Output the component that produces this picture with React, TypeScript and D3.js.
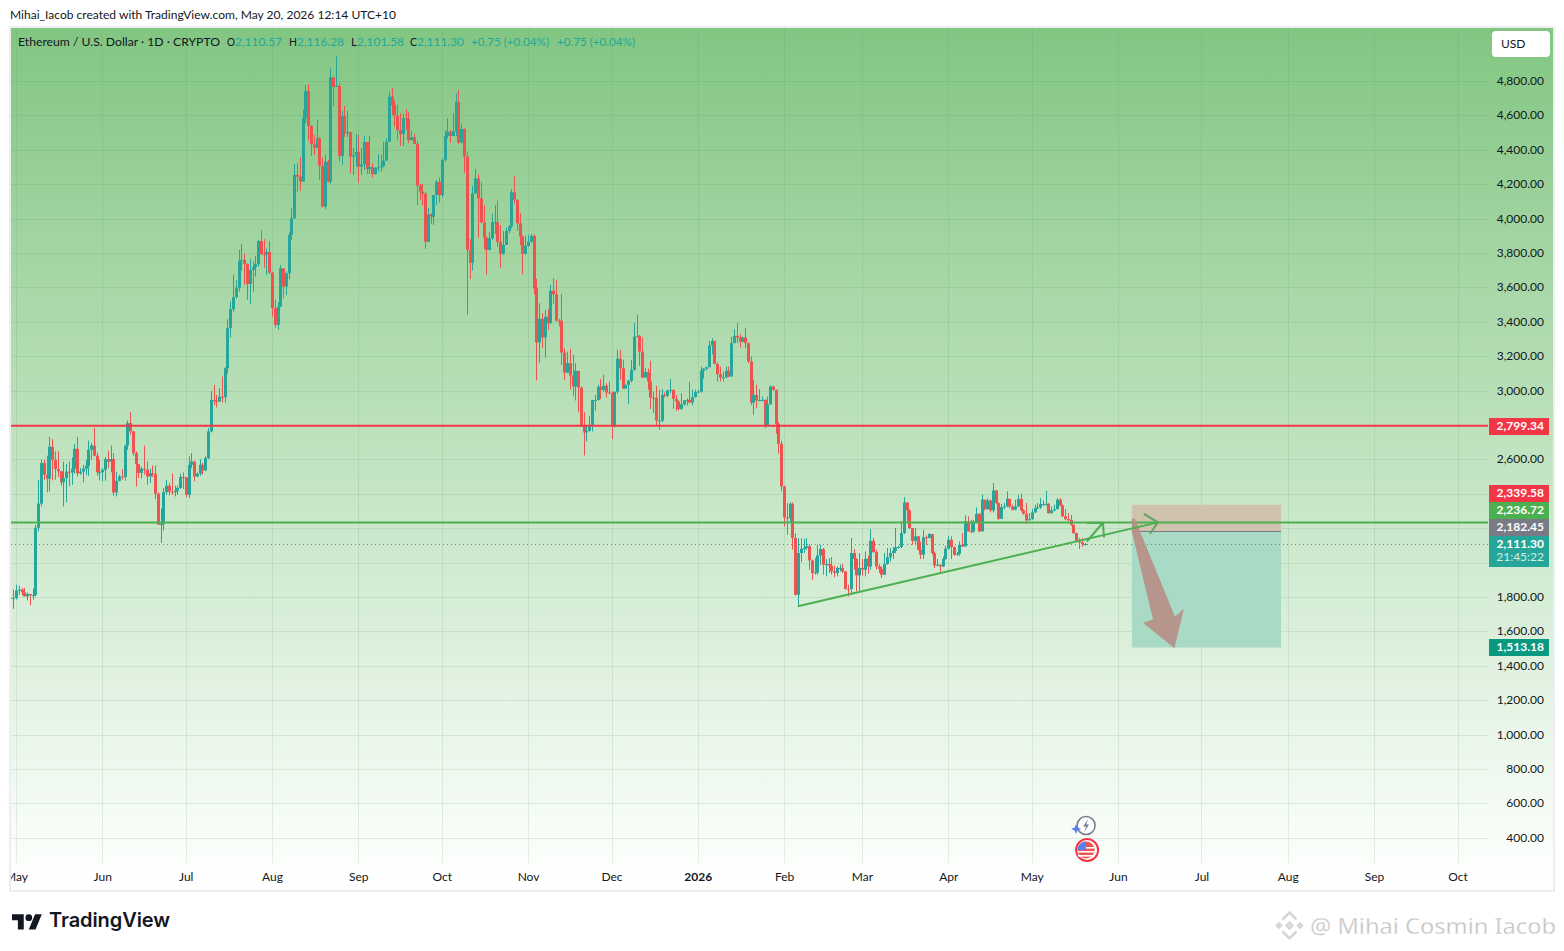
import React, { useEffect, useRef } from 'react';
import * as d3 from 'd3';

// daily candles, first one is 29 Apr 2025, open = previous close
const firstOpen = 1801;
const closes = [
  1794, 1797, 1842, 1846, 1830, 1807, 1821, 1813, 1815, 2206, 2346, 2582, 2514, 2491, 2677, 2601, 2547, 2534, 2470, 2495,
  2532, 2528, 2549, 2665, 2522, 2532, 2549, 2566, 2659, 2683, 2625, 2528, 2528, 2543, 2605, 2590, 2605, 2411, 2479, 2504,
  2501, 2683, 2814, 2766, 2640, 2576, 2524, 2549, 2543, 2504, 2524, 2520, 2404, 2224, 2228, 2413, 2450, 2415, 2413, 2421,
  2437, 2501, 2499, 2398, 2572, 2590, 2504, 2520, 2572, 2539, 2611, 2766, 2949, 2945, 2939, 2968, 2965, 3133, 3366, 3476,
  3546, 3602, 3757, 3763, 3739, 3623, 3705, 3720, 3738, 3873, 3796, 3794, 3809, 3689, 3482, 3385, 3491, 3714, 3608, 3685,
  3908, 4005, 4257, 4247, 4218, 4586, 4745, 4541, 4435, 4415, 4470, 4309, 4073, 4334, 4218, 4824, 4770, 4774, 4367, 4599,
  4499, 4506, 4363, 4371, 4390, 4305, 4319, 4448, 4291, 4303, 4262, 4299, 4301, 4307, 4340, 4450, 4712, 4663, 4601, 4518,
  4495, 4586, 4584, 4460, 4476, 4437, 4195, 4160, 4148, 3869, 4028, 4014, 4140, 4216, 4140, 4344, 4483, 4508, 4483, 4512,
  4681, 4445, 4524, 4363, 3821, 3747, 4150, 4237, 4121, 3980, 3892, 3821, 3889, 3982, 3982, 3869, 3798, 3850, 3931, 3957,
  4156, 4112, 3976, 3899, 3798, 3844, 3868, 3902, 3598, 3283, 3420, 3312, 3432, 3395, 3583, 3563, 3410, 3409, 3224, 3108,
  3163, 3091, 3027, 3118, 3021, 2795, 2760, 2769, 2800, 2949, 2949, 3025, 3008, 3031, 2992, 2988, 2798, 2996, 3188, 3133,
  3015, 3037, 3060, 3124, 3317, 3321, 3230, 3079, 3110, 3056, 2963, 2961, 2829, 2829, 2978, 2973, 3004, 3008, 2955, 2940,
  2897, 2924, 2946, 2949, 2934, 2965, 2994, 2998, 3118, 3130, 3139, 3265, 3292, 3159, 3099, 3079, 3081, 3118, 3085, 3279,
  3321, 3312, 3288, 3312, 3279, 3172, 2934, 2978, 2946, 2949, 2949, 2798, 2924, 3027, 3008, 2810, 2694, 2446, 2266, 2262,
  2345, 2146, 1817, 2059, 2084, 2088, 2098, 2016, 1943, 1946, 2045, 2082, 1991, 1995, 1985, 1952, 1943, 1972, 1972, 1952,
  1851, 1850, 2059, 2024, 1929, 1972, 1962, 2026, 1981, 2130, 2065, 1981, 1966, 1933, 1995, 2034, 2059, 2072, 2092, 2094,
  2175, 2353, 2307, 2204, 2130, 2156, 2078, 2049, 2150, 2146, 2169, 2059, 1987, 1991, 1981, 2024, 2084, 2136, 2094, 2049,
  2055, 2107, 2097, 2243, 2185, 2183, 2237, 2287, 2185, 2369, 2314, 2365, 2307, 2423, 2349, 2258, 2326, 2330, 2374, 2330,
  2311, 2330, 2373, 2307, 2287, 2249, 2256, 2295, 2320, 2324, 2343, 2343, 2345, 2291, 2307, 2314, 2369, 2336, 2272, 2256,
  2252, 2223, 2175, 2130, 2121, 2110.57, 2111.3,
];
const highs = [
  1846, 1846, 1875, 1869, 1856, 1856, 1830, 1821, 1852, 2222, 2485, 2601, 2601, 2625, 2735, 2721, 2650, 2650, 2537, 2590,
  2578, 2592, 2615, 2694, 2735, 2553, 2572, 2601, 2712, 2698, 2787, 2644, 2601, 2553, 2617, 2654, 2683, 2640, 2532, 2514,
  2547, 2689, 2830, 2878, 2770, 2650, 2576, 2563, 2683, 2592, 2549, 2568, 2568, 2411, 2317, 2437, 2485, 2466, 2520, 2450,
  2450, 2520, 2528, 2501, 2621, 2640, 2596, 2528, 2605, 2582, 2621, 2785, 3001, 3036, 2978, 3017, 3085, 3139, 3418, 3521,
  3676, 3646, 3821, 3856, 3798, 3743, 3767, 3753, 3786, 3879, 3937, 3883, 3830, 3873, 3693, 3534, 3517, 3734, 3714, 3695,
  3923, 4065, 4321, 4324, 4359, 4634, 4780, 4785, 4547, 4489, 4576, 4476, 4357, 4373, 4344, 4876, 4824, 4948, 4789, 4628,
  4658, 4628, 4508, 4412, 4495, 4489, 4412, 4483, 4448, 4483, 4324, 4301, 4379, 4373, 4448, 4470, 4741, 4762, 4689, 4667,
  4615, 4611, 4640, 4621, 4512, 4495, 4456, 4204, 4204, 4160, 4065, 4034, 4140, 4228, 4243, 4353, 4518, 4586, 4518, 4615,
  4731, 4751, 4557, 4528, 4392, 3883, 4193, 4290, 4262, 4214, 4082, 3898, 3927, 4030, 4082, 4107, 3966, 3931, 3951, 3966,
  4176, 4251, 4117, 4034, 3908, 3902, 3908, 3914, 3912, 3653, 3511, 3453, 3472, 3476, 3618, 3656, 3647, 3420, 3565, 3250,
  3230, 3246, 3211, 3163, 3118, 3027, 2878, 2798, 2856, 2949, 2979, 3037, 3070, 3095, 3046, 3056, 2998, 2998, 3240, 3240,
  3182, 3037, 3066, 3182, 3395, 3443, 3327, 3312, 3133, 3130, 3176, 2998, 3031, 3008, 3011, 2992, 3008, 3071, 3008, 2979,
  2946, 2988, 2949, 2959, 3054, 3008, 3008, 3008, 3143, 3133, 3143, 3292, 3308, 3292, 3166, 3143, 3114, 3143, 3143, 3317,
  3360, 3395, 3331, 3317, 3366, 3283, 3201, 3066, 3037, 3011, 2969, 2953, 2969, 3033, 3033, 3008, 2820, 2711, 2450, 2349,
  2353, 2353, 2175, 2146, 2146, 2142, 2146, 2113, 2020, 2030, 2107, 2107, 2088, 2024, 2030, 2035, 1985, 1981, 1991, 1995,
  1956, 1875, 2146, 2082, 2030, 2059, 2024, 2068, 2043, 2198, 2146, 2078, 1995, 1981, 2059, 2088, 2088, 2094, 2204, 2101,
  2243, 2384, 2353, 2314, 2204, 2204, 2156, 2126, 2194, 2161, 2175, 2169, 2068, 2024, 1991, 2039, 2101, 2159, 2156, 2097,
  2065, 2126, 2175, 2278, 2272, 2252, 2252, 2324, 2291, 2398, 2369, 2378, 2369, 2466, 2423, 2353, 2345, 2349, 2417, 2374,
  2340, 2369, 2398, 2404, 2314, 2349, 2291, 2314, 2340, 2349, 2378, 2365, 2421, 2349, 2330, 2340, 2378, 2378, 2340, 2314,
  2291, 2281, 2223, 2179, 2146, 2146, 2116.28,
];
const lows = [
  1788, 1735, 1788, 1817, 1813, 1807, 1784, 1755, 1788, 1807, 2185, 2330, 2485, 2411, 2417, 2481, 2485, 2501, 2450, 2330,
  2353, 2446, 2456, 2520, 2504, 2514, 2470, 2514, 2508, 2601, 2621, 2508, 2481, 2475, 2479, 2553, 2528, 2392, 2388, 2475,
  2485, 2479, 2659, 2747, 2625, 2446, 2495, 2491, 2514, 2456, 2466, 2501, 2373, 2224, 2117, 2189, 2398, 2394, 2398, 2388,
  2398, 2431, 2431, 2384, 2379, 2553, 2475, 2501, 2508, 2514, 2534, 2605, 2760, 2920, 2905, 2939, 2934, 2934, 3104, 3311,
  3462, 3540, 3579, 3701, 3617, 3530, 3507, 3579, 3666, 3724, 3792, 3718, 3676, 3681, 3433, 3369, 3356, 3488, 3540, 3559,
  3650, 3879, 4001, 4160, 4166, 4218, 4557, 4456, 4367, 4373, 4412, 4228, 4069, 4059, 4212, 4204, 4658, 4770, 4334, 4315,
  4479, 4479, 4266, 4257, 4305, 4212, 4257, 4286, 4262, 4262, 4241, 4260, 4276, 4276, 4301, 4338, 4448, 4605, 4538, 4464,
  4425, 4425, 4518, 4441, 4456, 4437, 4082, 4111, 4078, 3827, 3865, 3972, 3966, 4082, 4096, 4125, 4334, 4470, 4445, 4483,
  4483, 4437, 4441, 4270, 3443, 3652, 3701, 4146, 3892, 3976, 3825, 3676, 3821, 3879, 3914, 3840, 3718, 3792, 3850, 3918,
  3947, 4092, 3933, 3850, 3680, 3792, 3837, 3864, 3563, 3062, 3166, 3250, 3195, 3356, 3391, 3507, 3405, 3376, 3153, 3066,
  3104, 3008, 2969, 2946, 2876, 2795, 2626, 2707, 2765, 2765, 2887, 2946, 2953, 2998, 2963, 2984, 2721, 2789, 2984, 3066,
  3013, 3013, 2926, 3052, 3118, 3312, 3147, 3075, 3081, 3008, 2897, 2872, 2798, 2775, 2820, 2965, 2965, 2988, 2897, 2887,
  2887, 2891, 2915, 2917, 2930, 2917, 2963, 2988, 2992, 3073, 3120, 3139, 3215, 3157, 3056, 3056, 3056, 3075, 3081, 3085,
  3279, 3279, 3254, 3283, 3250, 3163, 2920, 2862, 2901, 2940, 2940, 2785, 2798, 2920, 3004, 2752, 2636, 2417, 2214, 2165,
  2233, 2078, 1811, 1749, 2005, 2059, 2078, 1962, 1904, 1933, 1933, 1991, 1933, 1923, 1943, 1933, 1919, 1923, 1952, 1943,
  1846, 1807, 1826, 1962, 1836, 1836, 1927, 1923, 1939, 1962, 2059, 1962, 1943, 1913, 1933, 1991, 2010, 2024, 2059, 2086,
  2088, 2169, 2243, 2198, 2107, 2107, 2074, 2024, 2024, 2107, 2144, 2049, 1972, 1981, 1939, 1977, 2020, 2078, 2024, 2043,
  2043, 2043, 2092, 2097, 2181, 2175, 2179, 2233, 2179, 2185, 2307, 2311, 2295, 2295, 2345, 2252, 2256, 2314, 2326, 2320,
  2307, 2307, 2326, 2301, 2281, 2227, 2249, 2252, 2291, 2314, 2316, 2334, 2334, 2287, 2287, 2301, 2320, 2330, 2268, 2249,
  2243, 2218, 2169, 2125, 2082, 2094, 2101.58,
];

const monthLabels = ['May', 'Jun', 'Jul', 'Aug', 'Sep', 'Oct', 'Nov', 'Dec', '2026', 'Feb', 'Mar', 'Apr', 'May', 'Jun', 'Jul', 'Aug', 'Sep', 'Oct'];
const priceTicks = [400, 600, 800, 1000, 1200, 1400, 1600, 1800, 2000, 2200, 2400, 2600, 2800, 3000, 3200, 3400, 3600, 3800, 4000, 4200, 4400, 4600, 4800];

// horizontal levels and the position tool
const resistance = 2799.34;
const support = 2236.72;
const lastPrice = 2111.3;
const stopPrice = 2339.58;
const entryPrice = 2182.45;
const targetPrice = 1513.18;
const toolDays = [402.8, 456.4];

// drawings as [days since first candle, price]
const trendLine: [number, number][] = [[282.8, 1749], [412.2, 2237]];
const trendHead: [number, number][] = [[407.1, 2287], [412.2, 2237], [409.3, 2171]];
const shortArrow: [number, number][] = [[386.6, 2126], [392.4, 2235]];
const shortHead: [number, number][] = [[386.7, 2233], [392.4, 2235], [392.8, 2149]];
const downArrow: [number, number][] = [[402.8, 2258], [403.9, 2258], [418.3, 1689], [421.5, 1735], [418.1, 1506], [406.8, 1654], [410.4, 1672], [402.8, 2182]];

const legendParts = [
  { t: 'Ethereum / U.S. Dollar · 1D · CRYPTO', x: 18, w: 202, c: '#131722' },
  { t: 'O', x: 227, w: 8, c: '#131722' },
  { t: '2,110.57', x: 235, w: 47, c: '#26a69a' },
  { t: 'H', x: 289, w: 8, c: '#131722' },
  { t: '2,116.28', x: 297, w: 47, c: '#26a69a' },
  { t: 'L', x: 351, w: 6, c: '#131722' },
  { t: '2,101.58', x: 357, w: 47, c: '#26a69a' },
  { t: 'C', x: 410, w: 7, c: '#131722' },
  { t: '2,111.30', x: 417, w: 47, c: '#26a69a' },
  { t: '+0.75 (+0.04%)', x: 471, w: 78, c: '#26a69a' },
  { t: '+0.75 (+0.04%)', x: 557, w: 78, c: '#26a69a' },
];

const FONT = 'Lato, "Noto Sans", sans-serif';
const dayMs = 864e5;
const startMs = Date.UTC(2025, 3, 29);
const dayToDate = (d: number) => new Date(startMs + d * dayMs);

const App: React.FC = () => {
  const svgRef = useRef<SVGSVGElement>(null);

  useEffect(() => {
    if (!svgRef.current) return;
    const svg = d3.select(svgRef.current);
    svg.selectAll('*').remove();

    const paneRight = 1488;
    const paneBottom = 863;
    const frame = { x: 11, y: 28, w: 1542, h: 862 };

    const x = d3.scaleUtc()
      .domain([new Date(Date.UTC(2025, 4, 1)), new Date(Date.UTC(2026, 9, 1))])
      .range([16.5, 1458]);
    const y = d3.scaleLinear().domain([400, 4800]).range([838.4, 81.5]);
    const xd = (d: number) => x(dayToDate(d));
    const crisp = (v: number) => Math.floor(v) + 0.5;
    const pts = (p: [number, number][]) => d3.line<[number, number]>().x(d => xd(d[0])).y(d => y(d[1]))(p) as string;

    const defs = svg.append('defs');
    const grad = defs.append('linearGradient').attr('id', 'bg').attr('x1', 0).attr('y1', 0).attr('x2', 0).attr('y2', 1);
    grad.append('stop').attr('offset', '0%').attr('stop-color', '#82c682');
    grad.append('stop').attr('offset', '96%').attr('stop-color', '#fbfefb');
    grad.append('stop').attr('offset', '100%').attr('stop-color', '#ffffff');
    defs.append('clipPath').attr('id', 'pane').append('rect')
      .attr('x', frame.x).attr('y', frame.y).attr('width', paneRight - frame.x).attr('height', frame.h);

    // page header
    svg.append('text').attr('x', 10).attr('y', 19).attr('font-family', FONT).attr('font-size', 12)
      .attr('textLength', 386).attr('lengthAdjust', 'spacingAndGlyphs').attr('fill', '#131722')
      .text('Mihai_Iacob created with TradingView.com, May 20, 2026 12:14 UTC+10');

    // frame and background
    svg.append('rect').attr('x', frame.x - 1).attr('y', frame.y - 1).attr('width', frame.w + 2).attr('height', frame.h + 2)
      .attr('fill', 'none').attr('stroke', '#eceef0').attr('stroke-width', 2);
    svg.append('rect').attr('x', frame.x).attr('y', frame.y).attr('width', frame.w).attr('height', frame.h).attr('fill', 'url(#bg)');

    // grid
    const months = d3.utcMonth.range(new Date(Date.UTC(2025, 4, 1)), new Date(Date.UTC(2026, 9, 2)));
    const grid = svg.append('g').attr('stroke', '#4f8f5f').attr('stroke-opacity', 0.14).attr('stroke-width', 1);
    grid.selectAll('line.v').data(months).join('line').attr('class', 'v')
      .attr('x1', d => crisp(x(d))).attr('x2', d => crisp(x(d)))
      .attr('y1', frame.y).attr('y2', paneBottom);
    grid.selectAll('line.h').data(priceTicks).join('line').attr('class', 'h')
      .attr('x1', frame.x).attr('x2', paneRight)
      .attr('y1', d => crisp(y(d))).attr('y2', d => crisp(y(d)));

    // position tool
    const tx0 = xd(toolDays[0]);
    const tw = xd(toolDays[1]) - tx0;
    svg.append('rect').attr('x', tx0).attr('y', y(stopPrice)).attr('width', tw).attr('height', y(entryPrice) - y(stopPrice)).attr('fill', '#cfc3ae');
    svg.append('rect').attr('x', tx0).attr('y', y(entryPrice)).attr('width', tw).attr('height', y(targetPrice) - y(entryPrice) + 0.6).attr('fill', '#a9dac6');
    svg.append('line').attr('x1', tx0).attr('x2', tx0 + tw).attr('y1', crisp(y(entryPrice))).attr('y2', crisp(y(entryPrice))).attr('stroke', '#787b86').attr('stroke-width', 1);

    const pane = svg.append('g').attr('clip-path', 'url(#pane)');

    // candles
    const candles = closes.map((c, i) => {
      const o = i === 0 ? firstOpen : closes[i - 1];
      return { i, o, c, h: Math.max(highs[i], o, c), l: Math.min(lows[i], o, c) };
    });
    const colorOf = (d: { o: number; c: number }) => (d.c >= d.o ? '#26a69a' : '#ef5350');
    pane.append('g').selectAll('line').data(candles).join('line')
      .attr('x1', d => crisp(xd(d.i))).attr('x2', d => crisp(xd(d.i)))
      .attr('y1', d => y(d.h)).attr('y2', d => y(d.l))
      .attr('stroke', colorOf).attr('stroke-width', 1);
    pane.append('g').selectAll('rect').data(candles).join('rect')
      .attr('x', d => Math.floor(xd(d.i)) - 1).attr('width', 3)
      .attr('y', d => y(Math.max(d.o, d.c)))
      .attr('height', d => Math.max(1, Math.abs(y(d.o) - y(d.c))))
      .attr('fill', colorOf);

    // levels go over the candles
    pane.append('line').attr('x1', frame.x).attr('x2', paneRight).attr('y1', y(resistance)).attr('y2', y(resistance)).attr('stroke', '#f23645').attr('stroke-width', 2);
    pane.append('line').attr('x1', frame.x).attr('x2', paneRight).attr('y1', y(support)).attr('y2', y(support)).attr('stroke', '#4caf50').attr('stroke-width', 2);
    pane.append('line').attr('x1', frame.x).attr('x2', paneRight).attr('y1', crisp(y(lastPrice))).attr('y2', crisp(y(lastPrice))).attr('stroke', '#26a69a').attr('stroke-width', 1).attr('stroke-dasharray', '1 3');

    // drawings
    pane.append('path').attr('d', pts(downArrow) + 'Z').attr('fill', '#b78f88').attr('fill-opacity', 0.92);
    const drawn = pane.append('g').attr('fill', 'none').attr('stroke', '#4caf50').attr('stroke-width', 2);
    drawn.append('path').attr('d', pts(trendLine));
    drawn.append('path').attr('d', pts(shortArrow));
    drawn.append('path').attr('d', pts(shortHead));
    drawn.append('path').attr('d', pts(trendHead)).attr('stroke', '#5fa565');

    // legend
    const legend = svg.append('g').attr('font-family', FONT).attr('font-size', 12);
    legend.selectAll('text').data(legendParts).join('text')
      .attr('x', d => d.x).attr('y', 45.5).attr('fill', d => d.c)
      .attr('textLength', d => d.w).attr('lengthAdjust', 'spacingAndGlyphs').text(d => d.t);

    // USD box
    svg.append('rect').attr('x', 1492).attr('y', 31).attr('width', 58).attr('height', 26).attr('rx', 4).attr('fill', '#ffffff');
    svg.append('text').attr('x', 1501).attr('y', 48).attr('font-family', FONT).attr('font-size', 12).attr('fill', '#131722').text('USD');

    // price labels, they cover the axis ticks under them
    const priceLabels = [
      { v: resistance, top: 418, h: 17, bg: '#f23645' },
      { v: stopPrice, top: 485, h: 17, bg: '#f23645' },
      { v: support, top: 502, h: 17, bg: '#4caf50' },
      { v: entryPrice, top: 519, h: 17, bg: '#787b86' },
      { v: lastPrice, top: 536, h: 31, bg: '#26a69a' },
      { v: targetPrice, top: 639, h: 17, bg: '#089981' },
    ];
    const freeTicks = priceTicks.filter(t => !priceLabels.some(l => y(t) + 6 > l.top && y(t) - 6 < l.top + l.h));

    // price axis
    svg.append('g').attr('font-family', FONT).attr('font-size', 12).attr('fill', '#131722')
      .selectAll('text').data(freeTicks).join('text')
      .attr('x', 1544).attr('y', d => y(d) + 3.5).attr('text-anchor', 'end')
      .text(d => d3.format(',.2f')(d));

    const plab = svg.append('g').attr('font-family', FONT).attr('font-size', 12).attr('font-weight', 700);
    plab.selectAll('rect').data(priceLabels).join('rect')
      .attr('x', 1489).attr('y', d => d.top).attr('width', 60).attr('height', d => d.h).attr('fill', d => d.bg);
    plab.selectAll('text').data(priceLabels).join('text')
      .attr('x', 1544).attr('y', d => d.top + 12).attr('text-anchor', 'end').attr('fill', '#ffffff')
      .text(d => d3.format(',.2f')(d.v));
    plab.append('text').attr('x', 1544).attr('y', 561).attr('text-anchor', 'end').attr('fill', '#d4eee9').attr('font-weight', 400).text('21:45:22');

    // time axis, first label is cut by the frame
    defs.append('clipPath').attr('id', 'axis').append('rect').attr('x', frame.x).attr('y', 865).attr('width', 1480).attr('height', 24);
    svg.append('g').attr('clip-path', 'url(#axis)').attr('font-family', FONT).attr('font-size', 12).attr('fill', '#131722')
      .selectAll('text').data(months).join('text')
      .attr('x', d => x(d)).attr('y', 881).attr('text-anchor', 'middle')
      .attr('font-weight', (_, i) => (monthLabels[i] === '2026' ? 700 : 400))
      .text((_, i) => monthLabels[i]);

    // event icons
    const ix = xd(386) + 1;
    const bolt = svg.append('g');
    bolt.append('circle').attr('cx', ix).attr('cy', 825.5).attr('r', 9).attr('fill', '#ffffff').attr('stroke', '#787b86').attr('stroke-width', 1.5);
    bolt.append('path').attr('d', `M${ix + 2},819 L${ix - 3},826.5 L${ix},826.5 L${ix - 2},832 L${ix + 3},824.5 L${ix},824.5 Z`).attr('fill', '#787b86');
    bolt.append('path').attr('d', `M${ix - 10},824 L${ix - 8.5},827.5 L${ix - 5},829 L${ix - 8.5},830.5 L${ix - 10},834 L${ix - 11.5},830.5 L${ix - 15},829 L${ix - 11.5},827.5 Z`).attr('fill', '#5b7ff0');
    const flag = svg.append('g');
    flag.append('circle').attr('cx', ix + 1).attr('cy', 850).attr('r', 11).attr('fill', '#ffffff').attr('stroke', '#f23645').attr('stroke-width', 2);
    flag.append('circle').attr('cx', ix).attr('cy', 850).attr('r', 8.5).attr('fill', '#ef5350');
    [847, 851, 855].forEach(w => flag.append('rect').attr('x', ix - 8).attr('y', w).attr('width', 16).attr('height', 1.6).attr('fill', '#ffffff'));
    flag.append('path').attr('d', `M${ix - 8.5},850 A8.5,8.5 0 0 1 ${ix},841.5 L${ix},850 Z`).attr('fill', '#5b7ff0');

    // logo
    const logo = svg.append('g').attr('transform', 'translate(12,911) scale(0.84)').attr('fill', '#131722');
    logo.append('path').attr('d', 'M14 22H7V11H0V4h14v18zM28 22h-8l7.5-18h8L28 22z');
    logo.append('circle').attr('cx', 20).attr('cy', 8).attr('r', 4);
    svg.append('text').attr('x', 49).attr('y', 927).attr('font-family', 'Inter, sans-serif').attr('font-weight', 600).attr('font-size', 20)
      .attr('textLength', 121).attr('lengthAdjust', 'spacing').attr('fill', '#131722').text('TradingView');

    // watermark, exchange mark and name
    const mark = svg.append('g').attr('transform', 'translate(1289.5,925.5)').attr('fill', 'none').attr('stroke', '#d6d6d6').attr('stroke-width', 2.6);
    mark.append('path').attr('d', 'M-7,-6 L0,-13 L7,-6');
    mark.append('path').attr('d', 'M-7,6 L0,13 L7,6');
    [[-10.5, 0, 2], [10.5, 0, 2], [0, 0, 2.8]].forEach(([cx, cy, r]) => {
      mark.append('path').attr('d', `M${cx - r},${cy} L${cx},${cy - r} L${cx + r},${cy} L${cx},${cy + r} Z`);
    });
    svg.append('text').attr('x', 1310).attr('y', 934).attr('font-family', '"Noto Sans", sans-serif').attr('font-size', 22)
      .attr('textLength', 246).attr('lengthAdjust', 'spacingAndGlyphs').attr('fill', '#c4c4c4').attr('stroke', '#ffffff').attr('stroke-width', 0.3)
      .text('@ Mihai Cosmin Iacob');
  }, []);

  return (
    <svg
      ref={svgRef}
      width={1564}
      height={951}
      viewBox="0 0 1564 951"
      style={{ position: 'absolute', left: 0, top: 0, display: 'block', background: '#ffffff' }}
    />
  );
};

export default App;
